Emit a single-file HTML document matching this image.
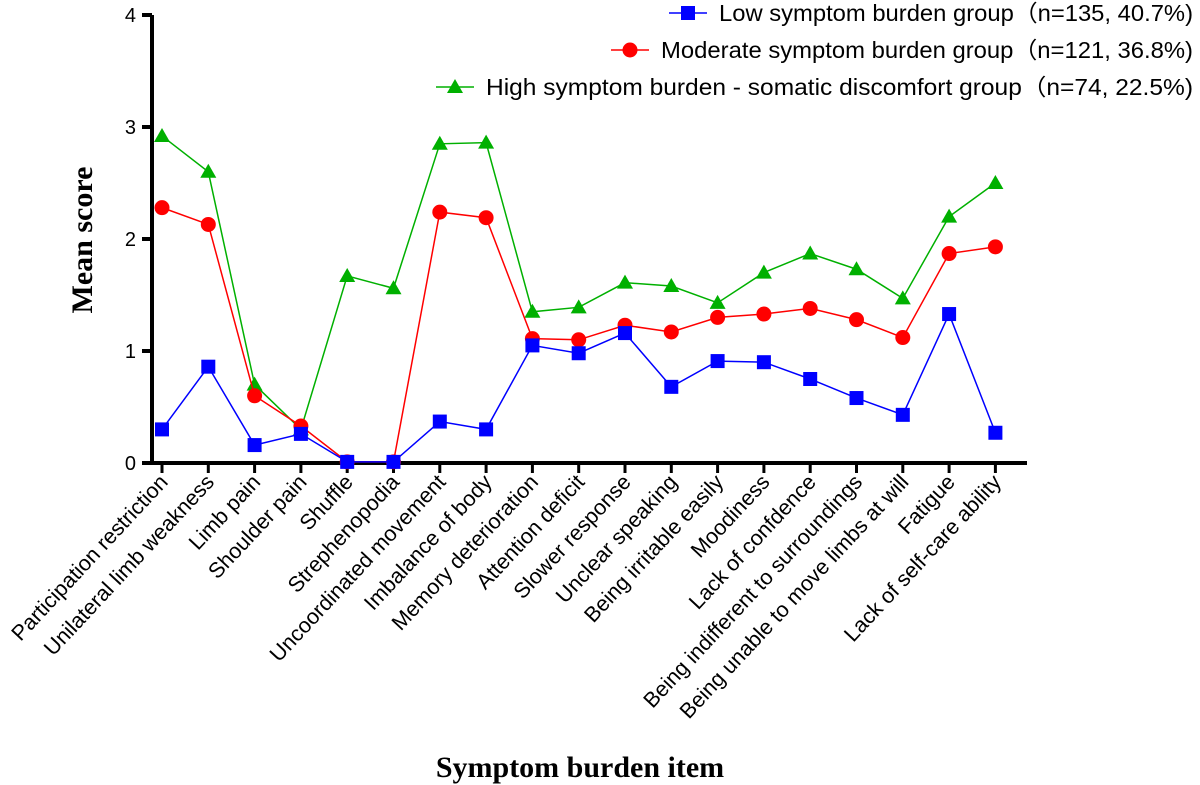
<!DOCTYPE html>
<html><head><meta charset="utf-8"><style>
html,body{margin:0;padding:0;background:#fff;}
svg{display:block;font-family:"Liberation Sans","Noto Sans CJK SC",sans-serif;}
</style></head><body>
<svg id="chart" width="1200" height="785" viewBox="0 0 1200 785"></svg>
<script>
const categories=["Participation restriction","Unilateral limb weakness","Limb pain","Shoulder pain","Shuffle","Strephenopodia","Uncoordinated movement","Imbalance of body","Memory deterioration","Attention deficit","Slower response","Unclear speaking","Being irritable easily","Moodiness","Lack of confdence","Being indifferent to surroundings","Being unable to move limbs at will","Fatigue","Lack of self-care ability"];
const lowValues=[0.3,0.86,0.16,0.26,0.01,0.01,0.37,0.3,1.05,0.98,1.16,0.68,0.91,0.9,0.75,0.58,0.43,1.33,0.27];
const moderateValues=[2.28,2.13,0.6,0.33,0.01,0.01,2.24,2.19,1.11,1.1,1.23,1.17,1.3,1.33,1.38,1.28,1.12,1.87,1.93];
const highValues=[2.92,2.6,0.7,0.3,1.67,1.56,2.85,2.86,1.35,1.39,1.61,1.58,1.43,1.7,1.87,1.73,1.47,2.2,2.5];
const yTicks=[0,1,2,3,4];
const legendLabels=["Low symptom burden group（n=135, 40.7%)","Moderate symptom burden  group（n=121, 36.8%)","High symptom burden - somatic discomfort group（n=74, 22.5%)"];
const legendWidths=[474,532,707];

const NS="http://www.w3.org/2000/svg";
const svg=document.getElementById('chart');
function mk(tag,attrs,parent){const e=document.createElementNS(NS,tag);for(const k in attrs)e.setAttribute(k,attrs[k]);(parent||svg).appendChild(e);return e;}
const x0=162,dx=46.3,yBase=463,yUnit=112;
const xs=i=>x0+i*dx;
const ys=v=>yBase-v*yUnit;

const ya=mk('line',{x1:152,y1:ys(4),x2:152,y2:yBase+2,stroke:'#000','stroke-width':4});


const xa=mk('line',{x1:150,y1:yBase,x2:1027,y2:yBase,stroke:'#000','stroke-width':4});


yTicks.forEach(t=>{
  mk('line',{x1:142,y1:ys(t),x2:152,y2:ys(t),stroke:'#000','stroke-width':4});
  const tx=mk('text',{x:136,y:ys(t)+7,'text-anchor':'end','font-size':20});
  tx.textContent=t;
  
  
});
categories.forEach((c,i)=>{
  mk('line',{x1:xs(i),y1:yBase,x2:xs(i),y2:yBase+10,stroke:'#000','stroke-width':3});
  const tx=mk('text',{transform:`translate(${xs(i)+7},${yBase+20}) rotate(-47)`,'text-anchor':'end','font-size':21.5});
  tx.textContent=c;
  
  
});
const yt=mk('text',{transform:'translate(92,240) rotate(-90)','text-anchor':'middle','font-size':30,'font-weight':'bold','font-family':'Liberation Serif,serif'});
yt.textContent='Mean score';


const xt=mk('text',{x:580,y:777,'text-anchor':'middle','font-size':30,'font-weight':'bold','font-family':'Liberation Serif,serif'});
xt.textContent='Symptom burden item';



function marker(type,x,y,color,g){
  if(type==='sq') return mk('rect',{x:x-7,y:y-7,width:14,height:14,fill:color},g);
  if(type==='ci') return mk('circle',{cx:x,cy:y,r:7.5,fill:color},g);
  return mk('polygon',{points:`${x},${y-8} ${x+8},${y+6} ${x-8},${y+6}`,fill:color},g);
}
const series=[[highValues,'#00b000','tr','series-high'],[moderateValues,'#ff0000','ci','series-moderate'],[lowValues,'#0000ff','sq','series-low']];
series.forEach(([vals,col,type,name])=>{
  const g=mk('g',{});
  
  
  mk('polyline',{points:vals.map((v,i)=>xs(i)+','+ys(v)).join(' '),fill:'none',stroke:col,'stroke-width':1.5},g);
  vals.forEach((v,i)=>{const m=marker(type,xs(i),ys(v),col,g);
    
    });
});
const legCols=['#0000ff','#ff0000','#00b000'],legTypes=['sq','ci','tr'];
legendLabels.forEach((l,i)=>{
  const g=mk('g',{});
  
  
  const y=13+i*37;
  const w=legendWidths[i];
  const left=1193-w;
  const t=mk('text',{x:left,y:y+8,'font-size':23,textLength:w,lengthAdjust:'spacingAndGlyphs'},g);
  t.textContent=l;
  mk('line',{x1:left-50,y1:y,x2:left-12,y2:y,stroke:legCols[i],'stroke-width':1.5},g);
  marker(legTypes[i],left-31,y,legCols[i],g);
});
</script>
</body></html>
